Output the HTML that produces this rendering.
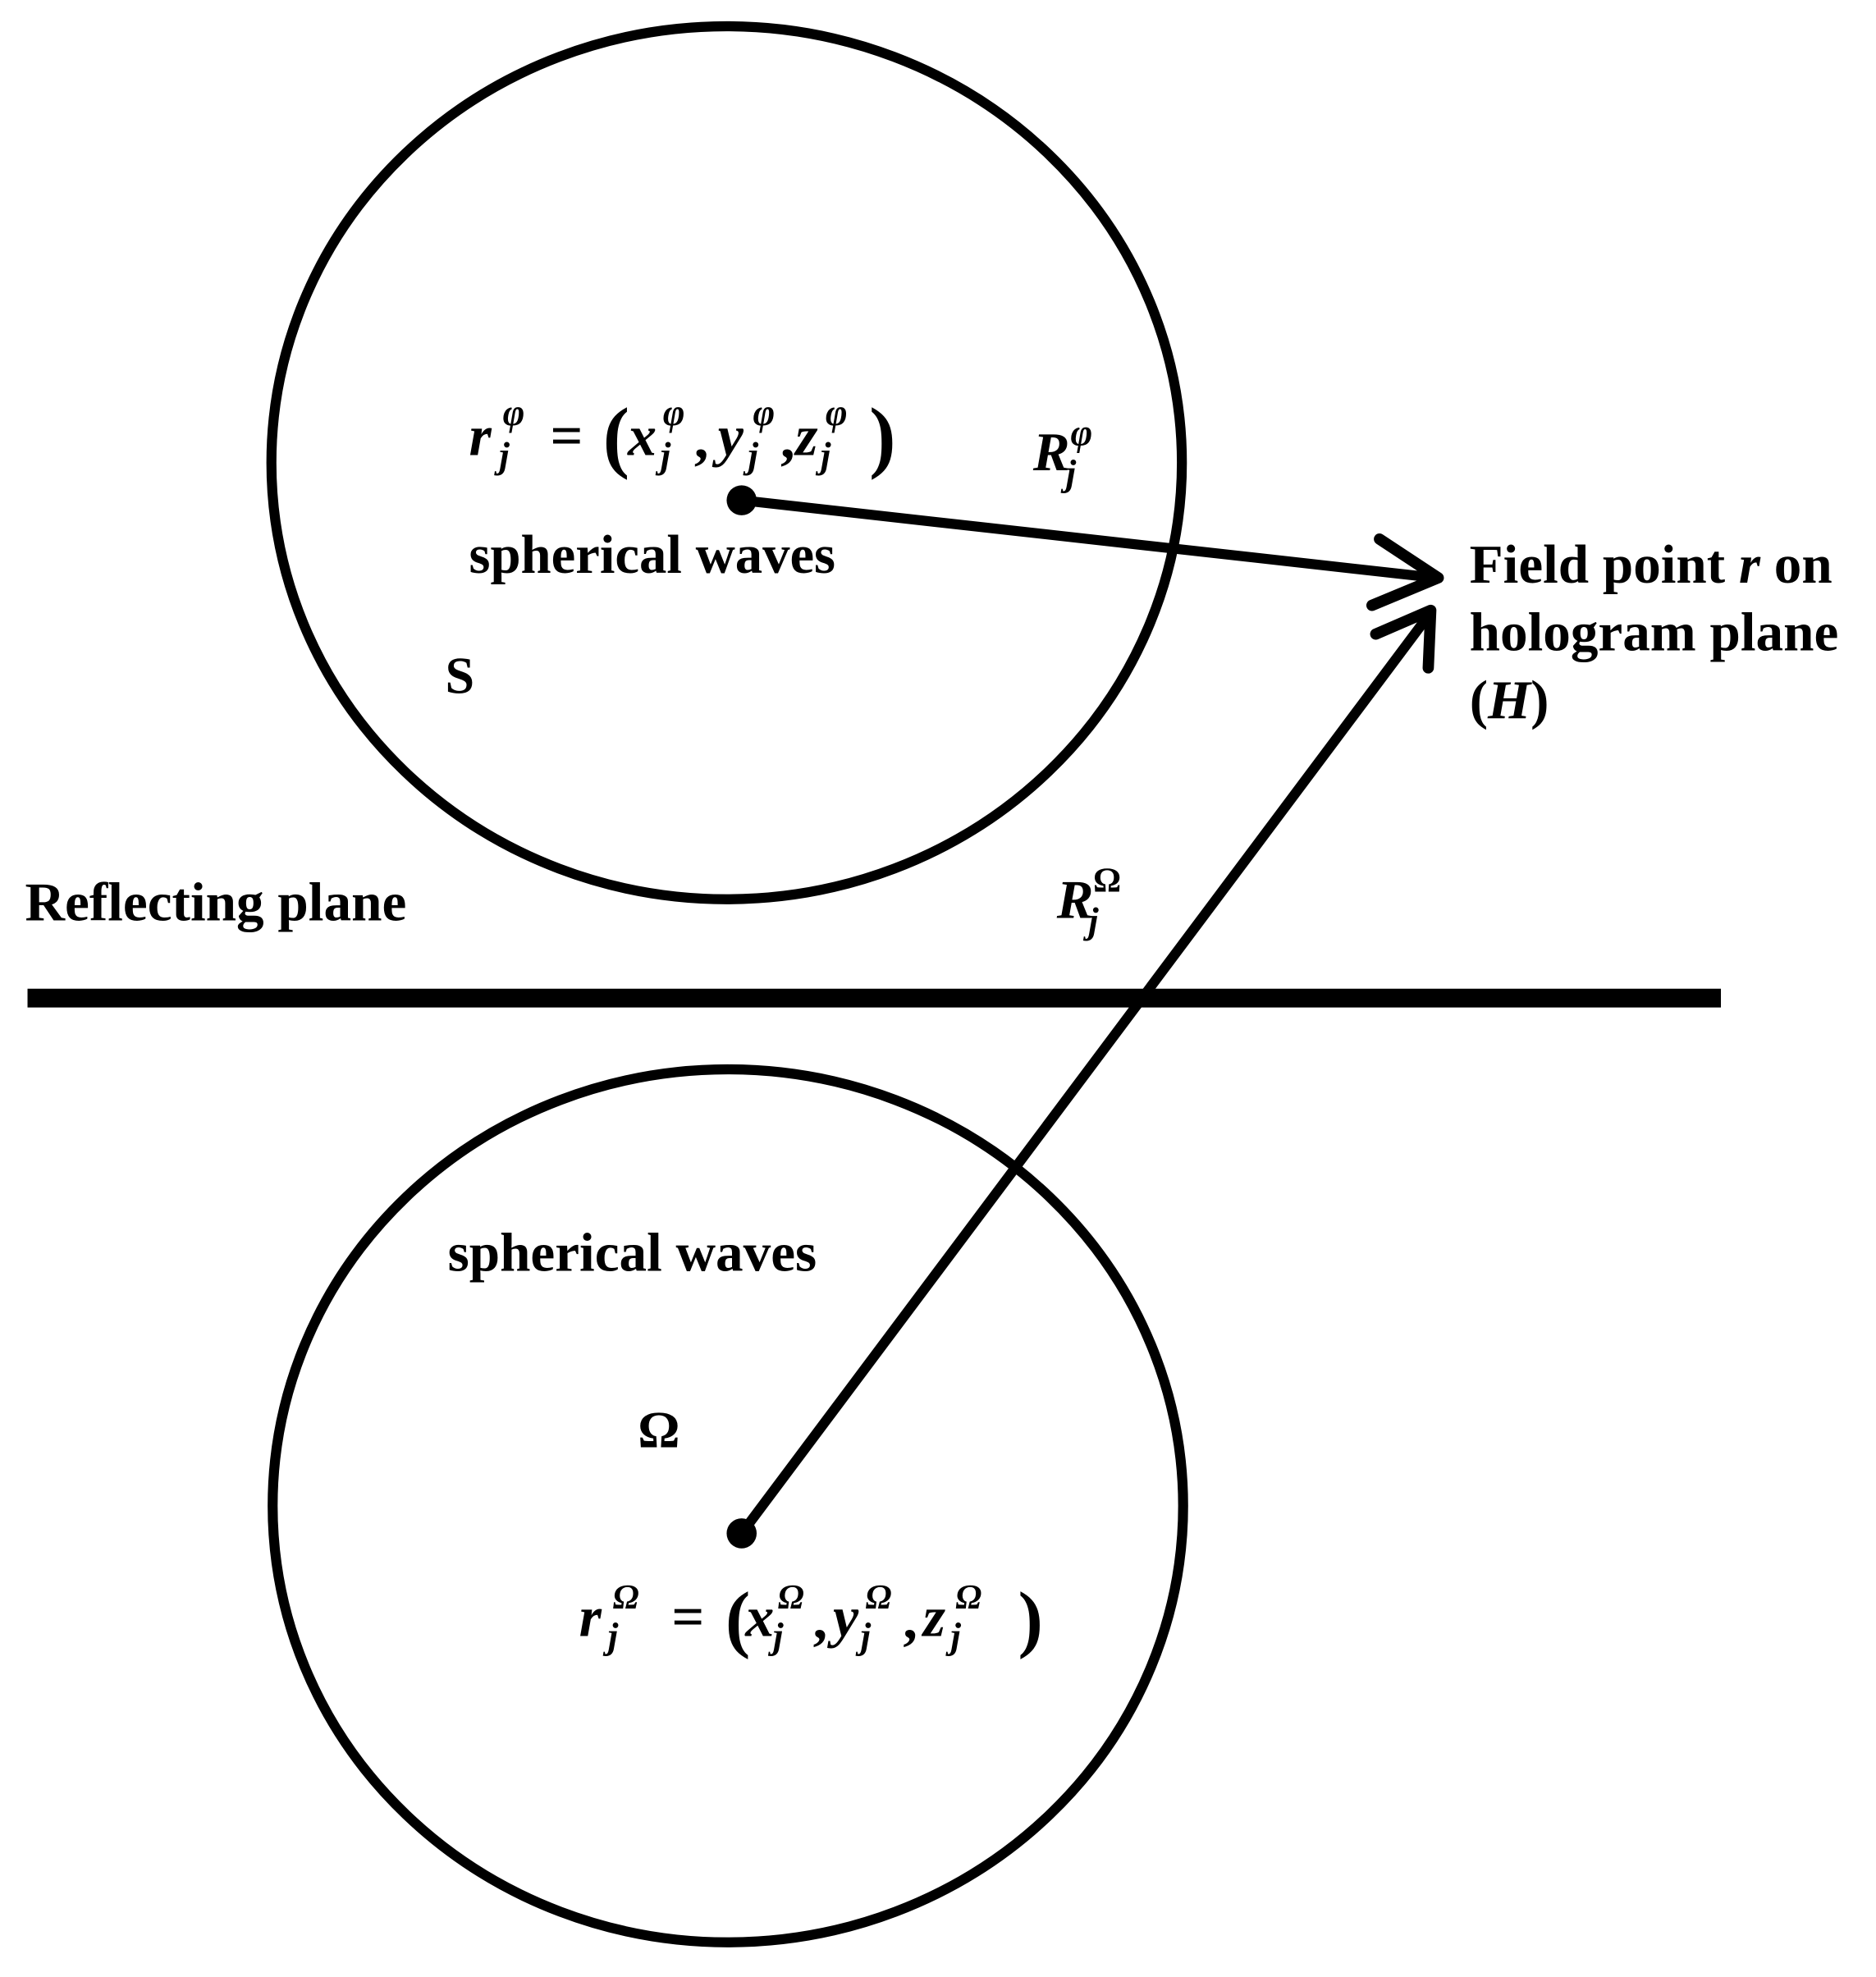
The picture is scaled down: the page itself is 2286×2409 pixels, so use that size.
<!DOCTYPE html>
<html><head><meta charset="utf-8"><style>
html,body{margin:0;padding:0;background:#fff;}
svg{display:block;}
text{font-family:"Liberation Serif",serif;font-weight:bold;fill:#000;}
.i{font-style:italic;}
</style></head><body>
<svg width="2286" height="2409" viewBox="0 0 1500 1580.7" xmlns="http://www.w3.org/2000/svg">
<g fill="none" stroke="#000" stroke-linecap="round" stroke-linejoin="round">
<ellipse cx="581" cy="370" rx="364" ry="349" stroke-width="8"/>
<ellipse cx="582" cy="1204" rx="364" ry="349" stroke-width="8"/>
<line x1="22" y1="798" x2="1376" y2="798" stroke-width="15" stroke-linecap="butt"/>
<line x1="593" y1="400" x2="1148" y2="462" stroke-width="8"/>
<polyline points="1103,431 1150,462 1097,484" stroke-width="9"/>
<line x1="593" y1="1226" x2="1140" y2="495" stroke-width="8"/>
<polyline points="1100,507 1144,488 1142,534" stroke-width="9"/>
</g>
<circle cx="593" cy="400" r="12" fill="#000"/>
<circle cx="593" cy="1226" r="12" fill="#000"/>

<!-- top formula -->
<g font-size="46">
<text class="i" x="375" y="364">r</text>
<text class="i" x="402" y="340" font-size="30">φ</text>
<text class="i" x="399" y="374" font-size="30">j</text>
<text x="440" y="364">=</text>
<text x="482" y="370" font-size="64" font-weight="normal">(</text>
<text class="i" x="502" y="364">x</text>
<text class="i" x="530" y="340" font-size="30">φ</text>
<text class="i" x="528" y="374" font-size="30">j</text>
<text x="555" y="366">,</text>
<text class="i" x="574" y="364">y</text>
<text class="i" x="602" y="340" font-size="30">φ</text>
<text class="i" x="598" y="374" font-size="30">j</text>
<text x="624" y="366">,</text>
<text class="i" x="636" y="364">z</text>
<text class="i" x="660" y="340" font-size="30">φ</text>
<text class="i" x="656" y="374" font-size="30">j</text>
<text x="695" y="370" font-size="64" font-weight="normal">)</text>
</g>
<text class="i" x="826" y="376" font-size="44">R</text>
<text class="i" x="856" y="356" font-size="30">φ</text>
<text class="i" x="852" y="388" font-size="30">j</text>

<text x="375" y="458" font-size="44" textLength="293" lengthAdjust="spacingAndGlyphs">spherical waves</text>
<text x="356" y="554" font-size="42">S</text>

<text x="1175" y="466" font-size="44" textLength="290" lengthAdjust="spacingAndGlyphs">Field point <tspan class="i">r</tspan> on</text>
<text x="1175" y="520" font-size="44" textLength="295" lengthAdjust="spacingAndGlyphs">hologram plane</text>
<text x="1175" y="574" font-size="44">(<tspan class="i">H</tspan>)</text>

<text x="20" y="736" font-size="44" textLength="305" lengthAdjust="spacingAndGlyphs">Reflecting plane</text>
<text class="i" x="845" y="734" font-size="44">R</text>
<text x="874" y="713" font-size="28">Ω</text>
<text class="i" x="870" y="746" font-size="30">j</text>

<text x="358" y="1016" font-size="44" textLength="295" lengthAdjust="spacingAndGlyphs">spherical waves</text>
<text x="510" y="1157" font-size="42">Ω</text>

<!-- bottom formula -->
<g font-size="46">
<text class="i" x="463" y="1308">r</text>
<text class="i" x="490" y="1286" font-size="28">Ω</text>
<text class="i" x="486" y="1318" font-size="30">j</text>
<text x="537" y="1308">=</text>
<text x="580" y="1314" font-size="60" font-weight="normal">(</text>
<text class="i" x="596" y="1308">x</text>
<text class="i" x="622" y="1286" font-size="28">Ω</text>
<text class="i" x="618" y="1318" font-size="30">j</text>
<text x="650" y="1310">,</text>
<text class="i" x="666" y="1308">y</text>
<text class="i" x="692" y="1286" font-size="28">Ω</text>
<text class="i" x="688" y="1318" font-size="30">j</text>
<text x="722" y="1310">,</text>
<text class="i" x="738" y="1308">z</text>
<text class="i" x="764" y="1286" font-size="28">Ω</text>
<text class="i" x="760" y="1318" font-size="30">j</text>
<text x="814" y="1314" font-size="60" font-weight="normal">)</text>
</g>
</svg>
</body></html>
